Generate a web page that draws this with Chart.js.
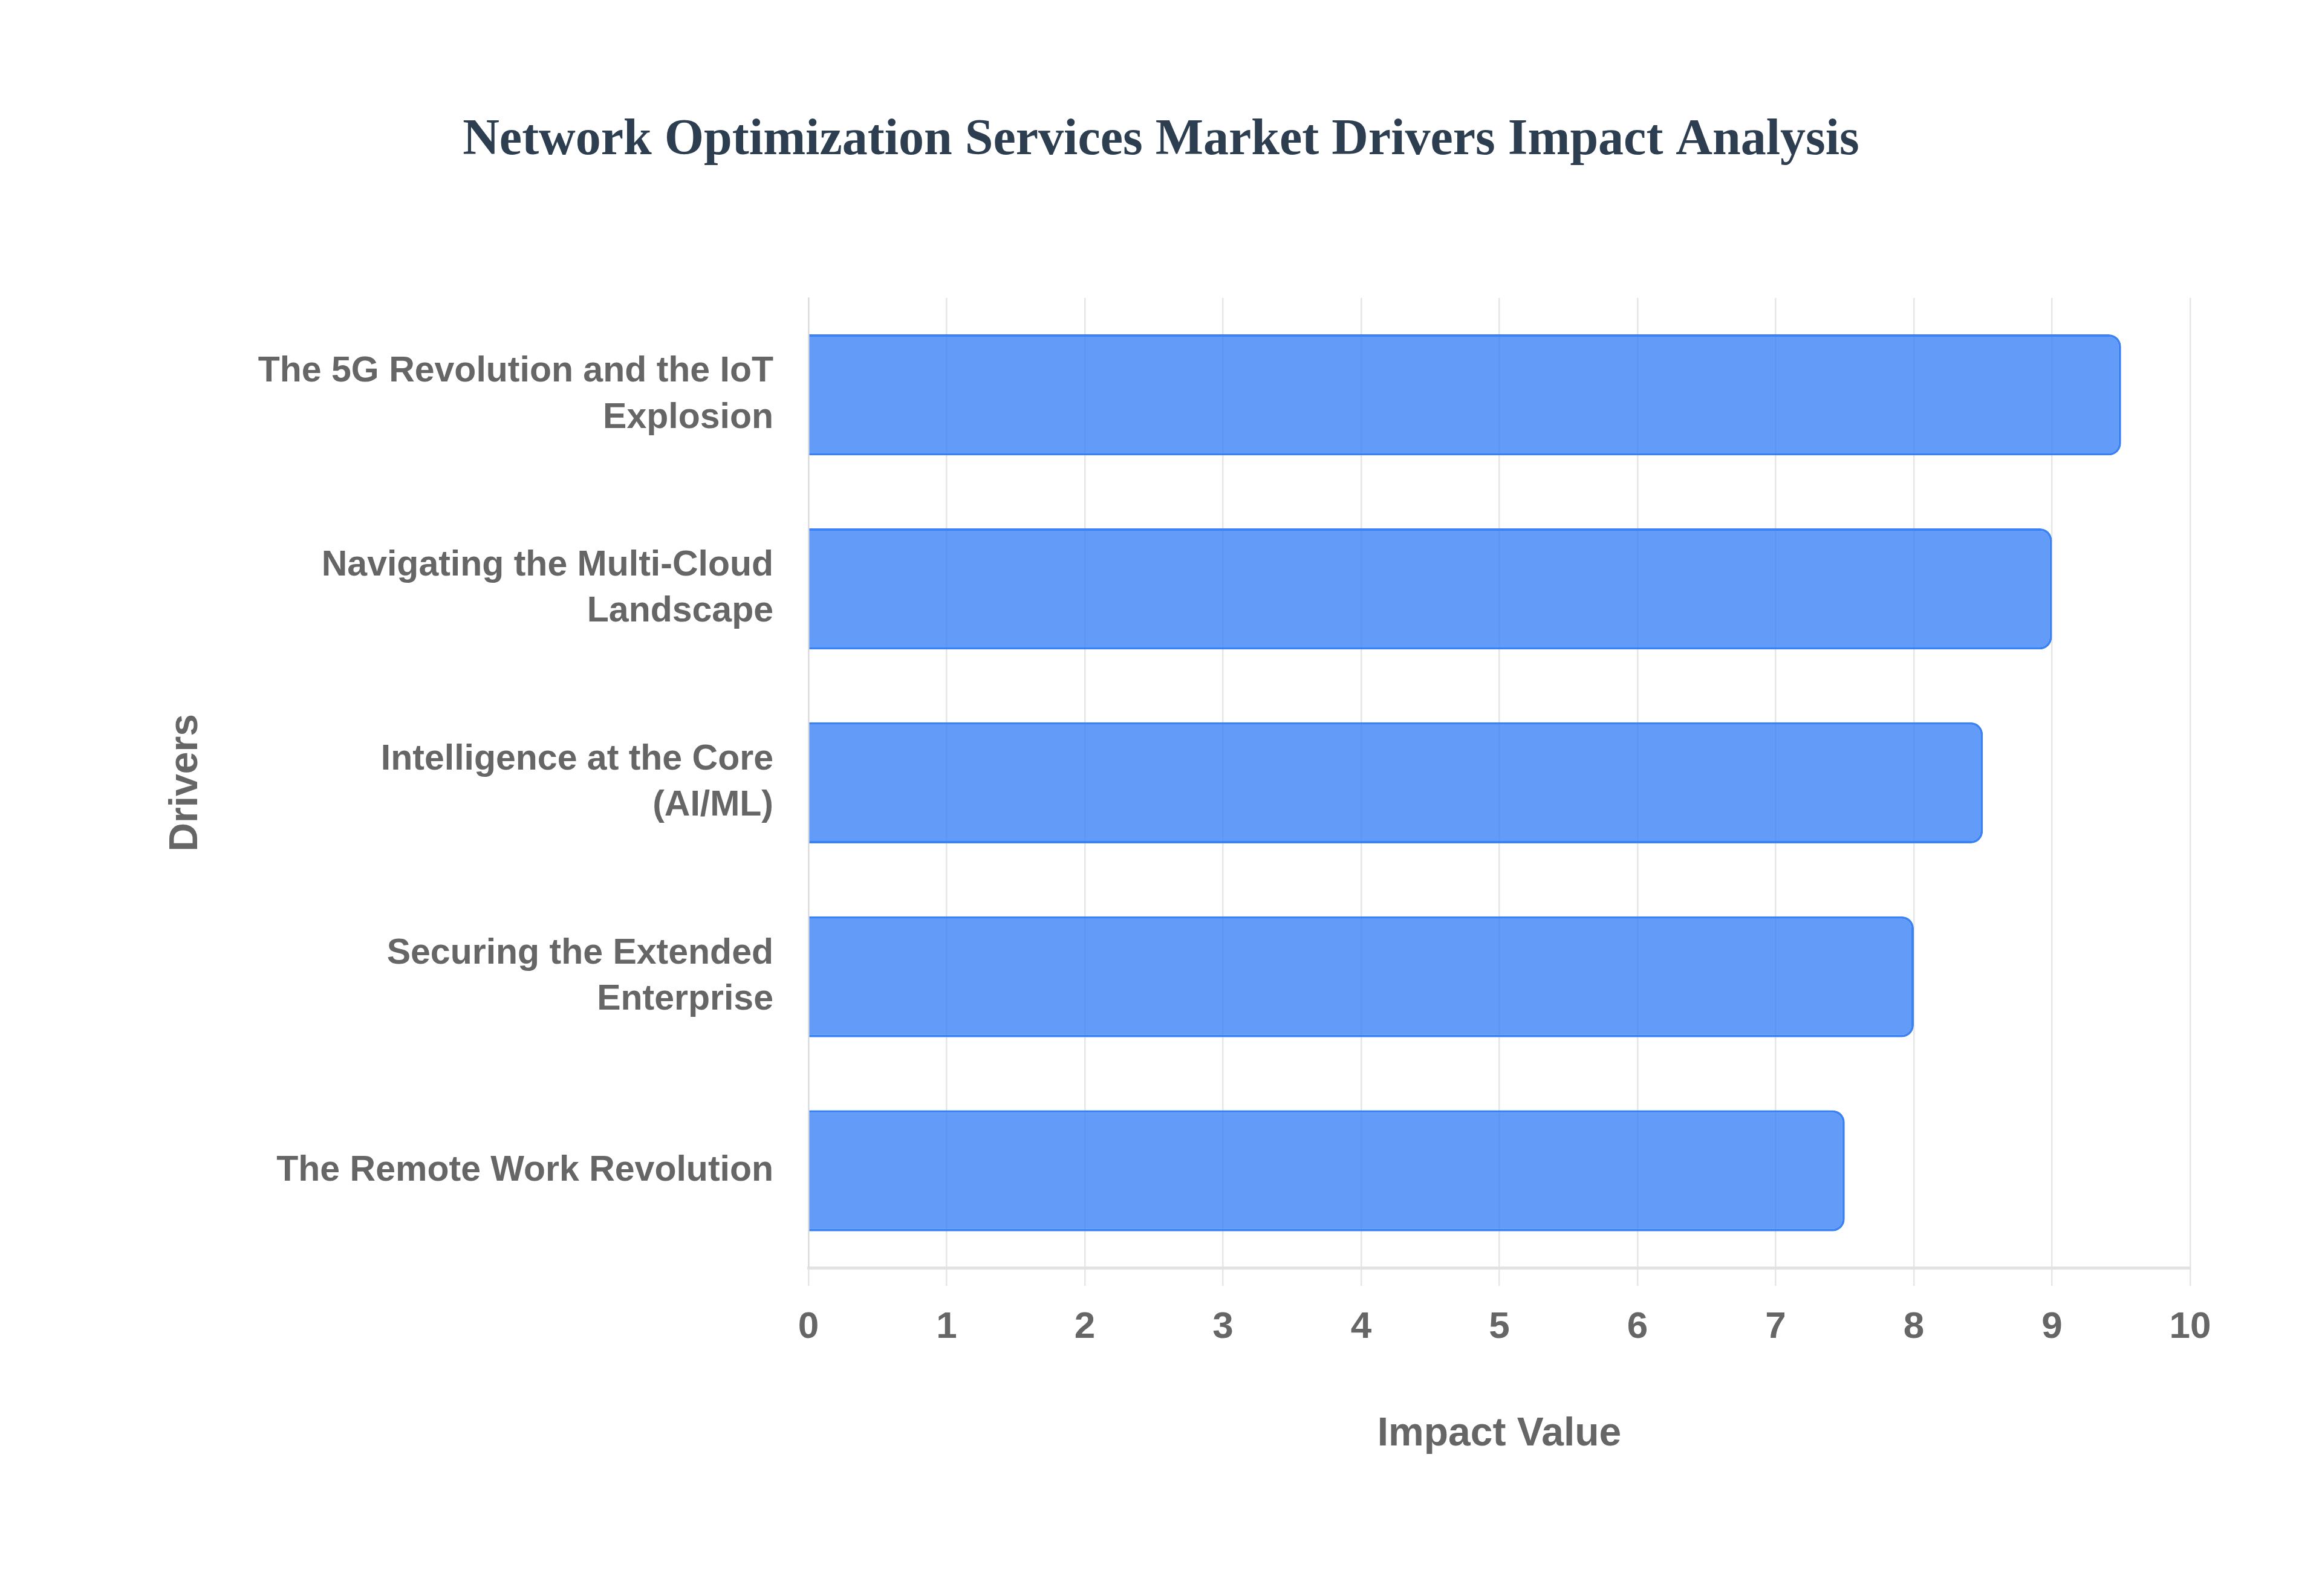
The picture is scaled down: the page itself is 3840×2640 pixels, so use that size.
<!DOCTYPE html>
<html>
<head>
<meta charset="utf-8">
<title>Network Optimization Services Market Drivers Impact Analysis</title>
<script src="https://cdn.jsdelivr.net/npm/chart.js@4.4.0/dist/chart.umd.min.js"></script>
<style>
html,body{margin:0;padding:0;background:#fff;}
#wrap{width:3840px;height:2640px;}
</style>
</head>
<body>
<div id="wrap"><canvas id="grafDrivers" width="3840" height="2640"></canvas></div>
<script>
// DADOS
const titulo = "Network Optimization Services Market Drivers Impact Analysis";
const drivers = [
  ["The 5G Revolution and the IoT", "Explosion"],
  ["Navigating the Multi-Cloud", "Landscape"],
  ["Intelligence at the Core", "(AI/ML)"],
  ["Securing the Extended", "Enterprise"],
  "The Remote Work Revolution"
];
const impacto = [9.5, 9.0, 8.5, 8.0, 7.5];
const eixoImpacto = [0, 10, 1]; // min, max, passo

(function(){

const SANS = "'Liberation Sans', Arial, Helvetica, sans-serif";
const SERIF = "'Liberation Serif', 'Times New Roman', Times, serif";

new Chart(document.getElementById("grafDrivers"), {
  type: "bar",
  data: {
    labels: drivers,
    datasets: [{
      label: "Impact Value",
      data: impacto,
      backgroundColor: "rgba(59,130,246,0.8)",
      borderColor: "#3b82f6",
      borderWidth: 4,
      borderRadius: 20,
      borderSkipped: "start",
      barPercentage: 0.78,
      categoryPercentage: 0.8
    }]
  },
  options: {
    indexAxis: "y",
    responsive: false,
    devicePixelRatio: 1,
    animation: false,
    layout: { padding: { top: 0, right: 218, bottom: 0, left: 218 } },
    plugins: {
      legend: { display: false },
      tooltip: { enabled: false },
      title: {
        display: true,
        text: titulo,
        color: "#2c3e50",
        font: { family: SERIF, size: 84, weight: "bold" },
        padding: { top: 183, bottom: 209 }
      }
    },
    scales: {
      // EIXO X
      x: {
        min: eixoImpacto[0],
        max: eixoImpacto[1],
        ticks: {
          stepSize: eixoImpacto[2],
          color: "#666",
          font: { family: SANS, size: 62, weight: "bold" },
          padding: 32
        },
        grid: { color: "#e6e6e6", lineWidth: 2.5, tickLength: 30 },
        border: { color: "#e2e2e2", width: 5 },
        title: {
          display: true,
          text: "Impact Value",
          color: "#666",
          font: { family: SANS, size: 66, weight: "bold" },
          padding: { top: 0, bottom: 228 }
        },
        afterFit: s => { s.height = 543; }
      },
      // EIXO Y
      y: {
        ticks: {
          color: "#666",
          font: { family: SANS, size: 59, weight: "bold", lineHeight: 1.29 },
          padding: 50
        },
        grid: { display: false },
        border: { color: "#dddddd", width: 2.5 },
        title: {
          display: true,
          text: "Drivers",
          color: "#666",
          font: { family: SANS, size: 66, weight: "bold" },
          padding: { top: 50, bottom: 0 }
        },
        afterFit: s => { s.width = 1119; }
      }
    }
  }
});

})();
</script>
</body>
</html>
